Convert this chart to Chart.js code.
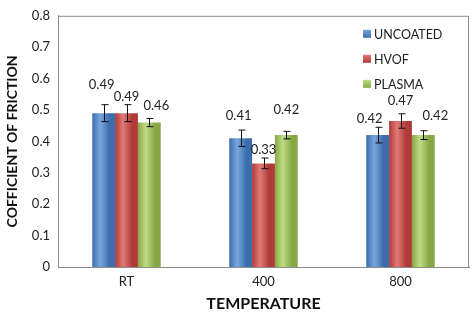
<!DOCTYPE html>
<html>
<head>
<meta charset="utf-8">
<script src="https://cdn.jsdelivr.net/npm/chart.js@4/dist/chart.umd.min.js"></script>
<style>
  html, body { margin: 0; padding: 0; background: #fff; }
  #wrap { width: 474px; height: 326px; }
</style>
</head>
<body>
<div id="wrap"><canvas id="frictionChart"></canvas></div>
<script>
// temperature groups and coefficient of friction per coating
const temps = ['RT', '400', '800'];
const series = ['UNCOATED', 'HVOF', 'PLASMA'];
const uncoated = [0.49, 0.41, 0.42];
const hvof = [0.49, 0.33, 0.465];
const plasma = [0.46, 0.42, 0.42];
const uncoatedErr = [0.027, 0.026, 0.025];
const hvofErr = [0.027, 0.017, 0.023];
const plasmaErr = [0.013, 0.012, 0.014];
const yTicks = [0, 0.1, 0.2, 0.3, 0.4, 0.5, 0.6, 0.7, 0.8];

// look
const edge = ['#3c6eae', '#b03a37', '#86a844'];
const mid = ['#7aa6dc', '#e07a77', '#c0dc86'];
// value label nudge [dx, dy] from bar top, per series per group
const labelNudge = [
  [[-2, -28], [-2, -22], [-8, -16]],
  [[0, -16], [0, -14], [0, -20]],
  [[7, -17], [0, -25], [12, -19]]
];
const FONT = 'Lato, "Open Sans", sans-serif';

function barFill(ctx) {
  const chart = ctx.chart;
  const i = ctx.datasetIndex;
  const xs = chart.scales.x;
  if (!xs || xs.width == null || ctx.type !== 'data') return edge[i];
  const cat = xs.width / temps.length;
  const bw = cat * 0.5 / 3;
  const cx = xs.getPixelForValue(ctx.dataIndex) + (i - 1) * bw;
  const g = chart.ctx.createLinearGradient(cx - bw / 2, 0, cx + bw / 2, 0);
  g.addColorStop(0, edge[i]);
  g.addColorStop(0.35, mid[i]);
  g.addColorStop(0.75, edge[i]);
  g.addColorStop(1, edge[i]);
  return g;
}

const boxPlugin = {
  id: 'boxPlugin',
  afterDatasetsDraw(chart) {
    const { ctx, chartArea: a, scales: { y } } = chart;
    const errs = [uncoatedErr, hvofErr, plasmaErr];
    ctx.save();
    // frame
    ctx.strokeStyle = '#8c8c8c';
    ctx.lineWidth = 1;
    ctx.strokeRect(a.left + 0.5, a.top + 0.5, a.right - a.left - 1, a.bottom - a.top);
    // error bars
    ctx.strokeStyle = '#111';
    chart.data.datasets.forEach((ds, di) => {
      chart.getDatasetMeta(di).data.forEach((bar, j) => {
        const v = ds.data[j], e = errs[di][j];
        const x = Math.round(bar.x) + 0.5;
        const t = y.getPixelForValue(v + e), b = y.getPixelForValue(v - e);
        ctx.beginPath();
        ctx.moveTo(x, t); ctx.lineTo(x, b);
        ctx.moveTo(x - 3, t); ctx.lineTo(x + 4, t);
        ctx.moveTo(x - 3, b); ctx.lineTo(x + 4, b);
        ctx.stroke();
      });
    });
    // value labels
    ctx.fillStyle = '#222';
    ctx.font = '13px ' + FONT;
    ctx.textAlign = 'center';
    ctx.textBaseline = 'middle';
    chart.data.datasets.forEach((ds, di) => {
      chart.getDatasetMeta(di).data.forEach((bar, j) => {
        const n = labelNudge[di][j];
        ctx.fillText(ds.data[j].toFixed(2), bar.x + n[0], bar.y + n[1]);
      });
    });
    // legend inside plot
    ctx.textAlign = 'left';
    ctx.font = '12.5px ' + FONT;
    series.forEach((name, i) => {
      const ly = a.top + 18 + i * 25;
      const lx = a.right - 106;
      const g = ctx.createLinearGradient(lx, ly - 4, lx, ly + 4);
      g.addColorStop(0, mid[i]);
      g.addColorStop(1, edge[i]);
      ctx.fillStyle = g;
      ctx.fillRect(lx, ly - 4, 8, 8);
      ctx.fillStyle = '#222';
      ctx.fillText(name, lx + 11, ly + 1);
    });
    ctx.restore();
  }
};

new Chart(document.getElementById('frictionChart'), {
  type: 'bar',
  data: {
    labels: temps,
    datasets: [
      { label: series[0], data: uncoated, backgroundColor: barFill },
      { label: series[1], data: hvof, backgroundColor: barFill },
      { label: series[2], data: plasma, backgroundColor: barFill }
    ]
  },
  options: {
    responsive: true,
    maintainAspectRatio: false,
    animation: false,
    layout: { padding: { top: 9, right: 5, left: 0, bottom: 0 } },
    datasets: { bar: { categoryPercentage: 0.5, barPercentage: 1.0, borderWidth: 0 } },
    plugins: { legend: { display: false }, tooltip: { enabled: false } },
    scales: {
      x: {
        grid: { display: false, drawTicks: false },
        border: { color: '#8c8c8c' },
        ticks: { color: '#222', font: { family: FONT, size: 13 }, padding: 7 },
        title: {
          display: true, text: 'TEMPERATURE', color: '#111',
          font: { family: FONT, size: 16, weight: 'bold' }, padding: { top: 0, bottom: 13 }
        },
        afterFit(s) { s.height = 59; }
      },
      y: {
        min: 0, max: 0.8,
        afterBuildTicks(s) { s.ticks = yTicks.map(v => ({ value: v })); },
        grid: { display: false, drawTicks: false },
        border: { color: '#8c8c8c' },
        ticks: { color: '#222', font: { family: FONT, size: 13 }, padding: 8,
          callback: v => String(v) },
        title: {
          display: true, text: 'COFFICIENT OF FRICTION', color: '#111',
          font: { family: FONT, size: 14, weight: 'bold' }, padding: { top: 4, bottom: 0 }
        },
        afterFit(s) { s.width = 58; }
      }
    }
  },
  plugins: [boxPlugin]
});
</script>
</body>
</html>
